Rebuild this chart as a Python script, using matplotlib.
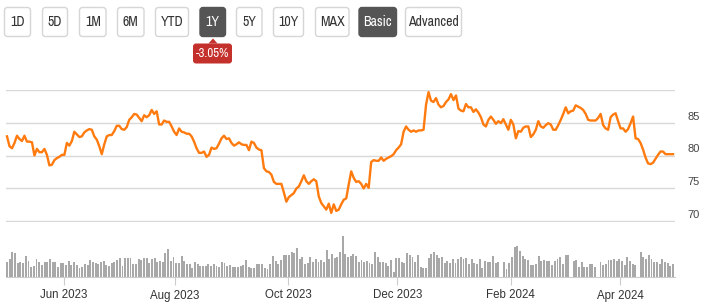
import pandas as pd
import matplotlib.pyplot as plt
from matplotlib import font_manager
from matplotlib.patches import FancyBboxPatch, Polygon

# === Data ===
price = [
    82.9, 81.4, 81.1, 81.9, 83.0, 82.5, 82.2, 83.0, 82.1, 82.1, 82.0, 80.0, 81.0, 80.5, 80.5, 81.0,
    80.1, 78.5, 78.6, 79.3, 79.6, 79.8, 80.1, 80.1, 81.9, 81.5, 82.2, 83.6, 83.2, 82.8, 82.9, 83.5,
    83.8, 84.0, 83.9, 82.9, 82.4, 81.4, 80.2, 81.7, 82.9, 83.1, 83.1, 83.7, 84.5, 84.5, 84.0, 83.9,
    84.3, 85.4, 85.8, 86.3, 86.2, 85.7, 85.2, 86.1, 85.8, 86.1, 86.9, 86.3, 86.7, 84.7, 84.7, 85.3,
    85.1, 85.1, 84.4, 83.6, 83.1, 84.1, 83.6, 83.5, 83.3, 83.3, 82.9, 82.1, 81.1, 80.4, 80.4, 80.6,
    79.8, 80.1, 81.2, 81.0, 81.1, 81.8, 82.6, 83.0, 82.5, 82.6, 81.9, 81.5, 81.7, 82.0, 81.7, 81.6,
    81.6, 80.8, 82.1, 81.9, 81.2, 80.9, 80.8, 78.1, 77.6, 77.5, 77.1, 76.0, 75.7, 75.7, 75.7, 74.4,
    73.0, 73.7, 74.0, 74.3, 75.0, 75.3, 76.1, 77.0, 76.1, 75.7, 76.1, 76.4, 76.1, 73.8, 72.8, 72.3,
    71.8, 72.7, 71.3, 72.6, 71.6, 71.8, 72.6, 73.3, 73.5, 75.6, 77.6, 76.6, 76.0, 76.1, 75.7, 75.0,
    75.7, 75.1, 79.0, 79.3, 79.2, 79.2, 79.7, 79.2, 79.5, 79.7, 79.9, 80.2, 80.8, 81.2, 81.7, 83.6,
    84.4, 83.9, 83.6, 83.8, 83.6, 83.8, 83.8, 83.9, 87.7, 89.6, 88.3, 88.1, 88.7, 87.7, 87.3, 87.5,
    88.1, 88.5, 89.3, 88.4, 89.1, 87.1, 86.8, 86.7, 87.8, 87.3, 87.3, 86.6, 87.0, 86.5, 85.8, 84.7,
    84.4, 85.4, 85.9, 85.4, 84.8, 85.2, 84.9, 85.5, 84.7, 83.9, 85.4, 84.7, 82.6, 83.7, 83.6, 84.2,
    84.4, 84.4, 82.8, 83.2, 83.9, 85.2, 84.4, 84.2, 84.6, 84.9, 84.7, 83.9, 83.9, 84.6, 85.4, 86.3,
    87.3, 86.4, 86.7, 86.8, 87.6, 87.4, 87.2, 86.9, 86.3, 85.4, 85.3, 85.3, 85.3, 85.7, 86.3, 84.6,
    84.1, 83.9, 85.8, 86.2, 86.4, 85.2, 84.1, 84.1, 83.6, 84.0, 84.9, 85.9, 82.6, 82.5, 81.9, 80.9,
    79.7, 78.8, 78.7, 78.9, 79.5, 80.1, 80.6, 80.6, 80.2, 80.2, 80.2, 80.2,
]

volume = [
    15.3, 17.7, 24.7, 23.7, 14.3, 15.3, 14.3, 21.0, 16.3, 10.3, 11.3, 17.7, 15.3, 12.0, 15.3, 15.3,
    17.7, 15.3, 15.3, 10.3, 14.3, 14.3, 12.0, 16.3, 12.0, 15.3, 12.0, 9.3, 10.3, 12.7, 12.0, 17.0,
    15.3, 14.3, 12.7, 15.3, 16.3, 12.0, 11.0, 14.3, 15.3, 17.0, 18.7, 11.0, 18.7, 18.7, 18.7, 12.7,
    12.7, 17.7, 17.0, 18.7, 18.7, 14.3, 17.7, 18.7, 15.3, 16.3, 15.3, 24.3, 27.7, 16.3, 19.7,
    14.3, 13.7, 21.0, 16.3, 12.7, 12.7, 9.3, 14.7, 12.7, 11.0, 11.0, 11.0, 12.7, 11.0, 12.7, 11.0,
    10.3, 14.7, 13.7, 11.0, 12.0, 9.7, 10.3, 10.3, 11.0, 12.0, 17.0, 10.3, 8.7, 9.3, 12.7, 12.7,
    12.7, 8.7, 8.0, 12.7, 21.0, 16.3, 12.7, 17.0, 22.0, 22.0, 22.0, 25.3, 24.3, 29.3, 18.0, 19.7,
    12.7, 14.3, 19.7, 15.3, 18.0, 14.7, 17.0, 15.3, 27.0, 18.0, 23.0, 18.7, 20.3, 25.3, 41.0, 23.0,
    19.7,
    21.0, 23.0, 21.0, 14.7, 17.0, 14.7, 16.0, 13.7, 12.7, 25.3, 20.3, 15.3, 14.7, 13.7, 11.3, 17.0,
    5.3, 18.7, 18.7, 14.7, 13.7, 24.3, 22.0, 20.3, 14.7, 22.0, 10.3, 8.7, 8.7, 18.7, 23.0, 25.3,
    22.0, 18.7, 19.7, 14.3, 16.3, 13.7, 17.7, 13.7, 17.7, 19.7, 17.7, 18.7, 12.7, 17.7, 14.3, 12.7,
    17.7, 9.3, 16.3, 15.3, 14.7, 21.0, 13.7, 15.3, 0.0, 14.7, 8.0, 13.7, 20.0, 29.7, 30.7,
    25.7, 20.7, 18.0, 17.3, 11.7, 11.7, 13.0, 20.7, 16.3, 17.3, 16.3, 16.3, 12.3, 16.3, 18.0, 20.0,
    13.0, 21.7, 22.3, 0.0, 16.3, 16.7, 9.7, 15.0, 10.0, 10.0, 13.0, 13.3, 10.0, 0.0, 15.0, 11.7,
    13.0, 17.3, 16.7, 18.0, 15.7, 18.0, 15.7, 12.3, 20.0, 15.7, 13.0, 12.3, 0.0, 24.7, 20.0, 18.3,
    22.3, 18.0, 14.7, 15.0, 13.0, 18.3, 15.0, 14.0, 10.7, 13.3,
]

start, end = "2023-05-01", "2024-04-30"
price_dates = pd.date_range(start, end, periods=len(price))
vol_dates = pd.date_range(start, end, periods=len(volume))

month_ticks = pd.to_datetime(["2023-06-01", "2023-08-01", "2023-10-02",
                              "2023-12-01", "2024-02-01", "2024-04-01"])
month_labels = ["Jun 2023", "Aug 2023", "Oct 2023", "Dec 2023", "Feb 2024", "Apr 2024"]
price_ticks = [70, 75, 80, 85]

ranges = ["1D", "5D", "1M", "6M", "YTD", "1Y", "5Y", "10Y", "MAX", "Basic", "Advanced"]
active = ["1Y", "Basic"]
change = "-3.05%"

# === Fonts ===
# a condensed face if one is installed, plain Liberation Sans otherwise
cond = [f.name for f in font_manager.fontManager.ttflist
        if "Narrow" in f.name or "Condensed" in f.name]
btn_font = [cond[0], "Liberation Sans"] if cond else ["Liberation Sans"]
btn_size = 10 if cond else 8.5
plt.rcParams["font.family"] = ["Liberation Sans", "DejaVu Sans"]

W, H = 706, 304
fig = plt.figure(figsize=(W / 100, H / 100), dpi=100)


def px_rect(x0, y0, x1, y1):
    return [x0 / W, 1 - y1 / H, (x1 - x0) / W, (y1 - y0) / H]


xlim = (pd.Timestamp("2023-04-30 10:50"), pd.Timestamp("2024-05-01 02:30"))

# === Price line ===
ax = fig.add_axes(px_rect(6, 89.5, 675, 221.5))
ax.plot(price_dates, price, color="#ff7b0f", lw=1.7, solid_joinstyle="round", clip_on=False, zorder=3)
ax.set_xlim(*xlim)
ax.set_ylim(70, 90)
ax.set_yticks([70, 75, 80, 85, 90])
ax.set_yticklabels([])
ax.set_xticks([])
ax.tick_params(length=0)
ax.grid(axis="y", color="#d8d8d8", lw=1)
for s in ax.spines.values():
    s.set_visible(False)
for v in price_ticks:
    ax.annotate(str(v), xy=(1, v), xycoords=("axes fraction", "data"),
                xytext=(12, 6), textcoords="offset pixels",
                ha="left", va="center", fontsize=8, color="#444444")

# === Volume bars ===
axv = fig.add_axes(px_rect(6, 232, 675, 277))
axv.bar(vol_dates, volume, width=1.05, color="#a8a8a8", linewidth=0)
axv.set_xlim(*xlim)
axv.set_ylim(0, 45)
axv.set_yticks([])
for s in ["top", "left", "right"]:
    axv.spines[s].set_visible(False)
axv.spines["bottom"].set_color("#cccccc")
axv.set_xticks(month_ticks)
axv.set_xticklabels(month_labels)
axv.tick_params(axis="x", length=6, color="#cccccc", labelsize=8.3, labelcolor="#333333", pad=3)

# === Range buttons ===
over = fig.add_axes([0, 0, 1, 1])
over.set_xlim(0, W)
over.set_ylim(H, 0)
over.axis("off")

btn_x = [(4.5, 30.5), (42.5, 67.5), (79.5, 106), (117.5, 144), (155.5, 188.5), (200, 225.5),
         (236.5, 262), (273.5, 303.5), (315.5, 349), (359, 396.5), (405.5, 461.5)]
for label, (x0, x1) in zip(ranges, btn_x):
    on = label in active
    over.add_patch(FancyBboxPatch((x0, 7.5), x1 - x0, 29, boxstyle="round,pad=0,rounding_size=3",
                                  fc="#555555" if on else "white",
                                  ec="#555555" if on else "#d6d6d6", lw=1))
    over.text((x0 + x1) / 2, 22.5, label, ha="center", va="center", fontsize=btn_size,
              family=btn_font, color="white" if on else "#333333")

# === Change badge ===
over.add_patch(Polygon([(208.5, 43.5), (213, 38.5), (217.5, 43.5)], closed=True,
                       fc="#c4302b", ec="none"))
over.add_patch(FancyBboxPatch((193, 43.5), 39, 20, boxstyle="round,pad=0,rounding_size=3",
                              fc="#c4302b", ec="none"))
over.text(212.5, 53.5, change, ha="center", va="center", fontsize=btn_size - 0.8,
          family=btn_font, color="white")

fig.savefig("out.png", dpi=100)
